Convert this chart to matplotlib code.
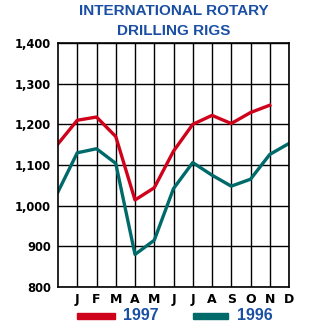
import matplotlib
matplotlib.use("Agg")
import matplotlib.pyplot as plt

months = ["J", "F", "M", "A", "M", "J", "J", "A", "S", "O", "N", "D"]
rigs_1997 = [1152, 1210, 1218, 1170, 1014, 1044, 1134, 1200, 1222, 1202, 1229, 1247]
rigs_1996 = [1034, 1130, 1140, 1104, 880, 915, 1042, 1106, 1075, 1048, 1065, 1126, 1153]
y_ticks = [800, 900, 1000, 1100, 1200, 1300, 1400]

red = "#d0021b"
teal = "#006a6a"
blue = "#1a4fa3"

W = 325.0
fig = plt.figure(figsize=(3.25, 3.25), dpi=100)
ax = fig.add_axes([58 / W, 1 - 287 / W, 231 / W, 244 / W])

ax.plot(range(len(rigs_1996)), rigs_1996, color=teal, lw=2.4)
ax.plot(range(len(rigs_1997)), rigs_1997, color=red, lw=2.4)

ax.set_xlim(0, 12)
ax.set_ylim(800, 1400)
ax.set_xticks(range(1, 13))
ax.set_xticklabels(months)
ax.set_yticks(y_ticks)
ax.set_yticklabels([f"{v:,}" for v in y_ticks])
ax.grid(True, color="black", lw=1)
ax.set_axisbelow(True)
ax.tick_params(length=0)
ax.tick_params(axis="y", pad=5, labelsize=8.3)
ax.tick_params(axis="x", pad=4, labelsize=9)
for lab in ax.get_xticklabels() + ax.get_yticklabels():
    lab.set_fontweight("bold")
for s in ax.spines.values():
    s.set_linewidth(1.2)

# title
fig.text(173.5 / W, 1 - 15 / W, "INTERNATIONAL ROTARY", ha="center", va="baseline",
         color=blue, fontsize=11, fontweight="bold", family="Liberation Sans")
fig.text(173.5 / W, 1 - 35 / W, "DRILLING RIGS", ha="center", va="baseline",
         color=blue, fontsize=11, fontweight="bold", family="Liberation Sans")

# legend
fig.patches.append(plt.Rectangle((77 / W, 1 - 319 / W), 38 / W, 6 / W,
                                 transform=fig.transFigure, color=red))
fig.text(123 / W, 1 - 320.5 / W, "1997", color=blue, fontsize=11.5, fontweight="bold",
         va="baseline", ha="left", family="Liberation Sans")
fig.patches.append(plt.Rectangle((193 / W, 1 - 319 / W), 35 / W, 6 / W,
                                 transform=fig.transFigure, color=teal))
fig.text(237 / W, 1 - 320.5 / W, "1996", color=blue, fontsize=11.5, fontweight="bold",
         va="baseline", ha="left", family="Liberation Sans")

fig.savefig("out.png", dpi=100)
